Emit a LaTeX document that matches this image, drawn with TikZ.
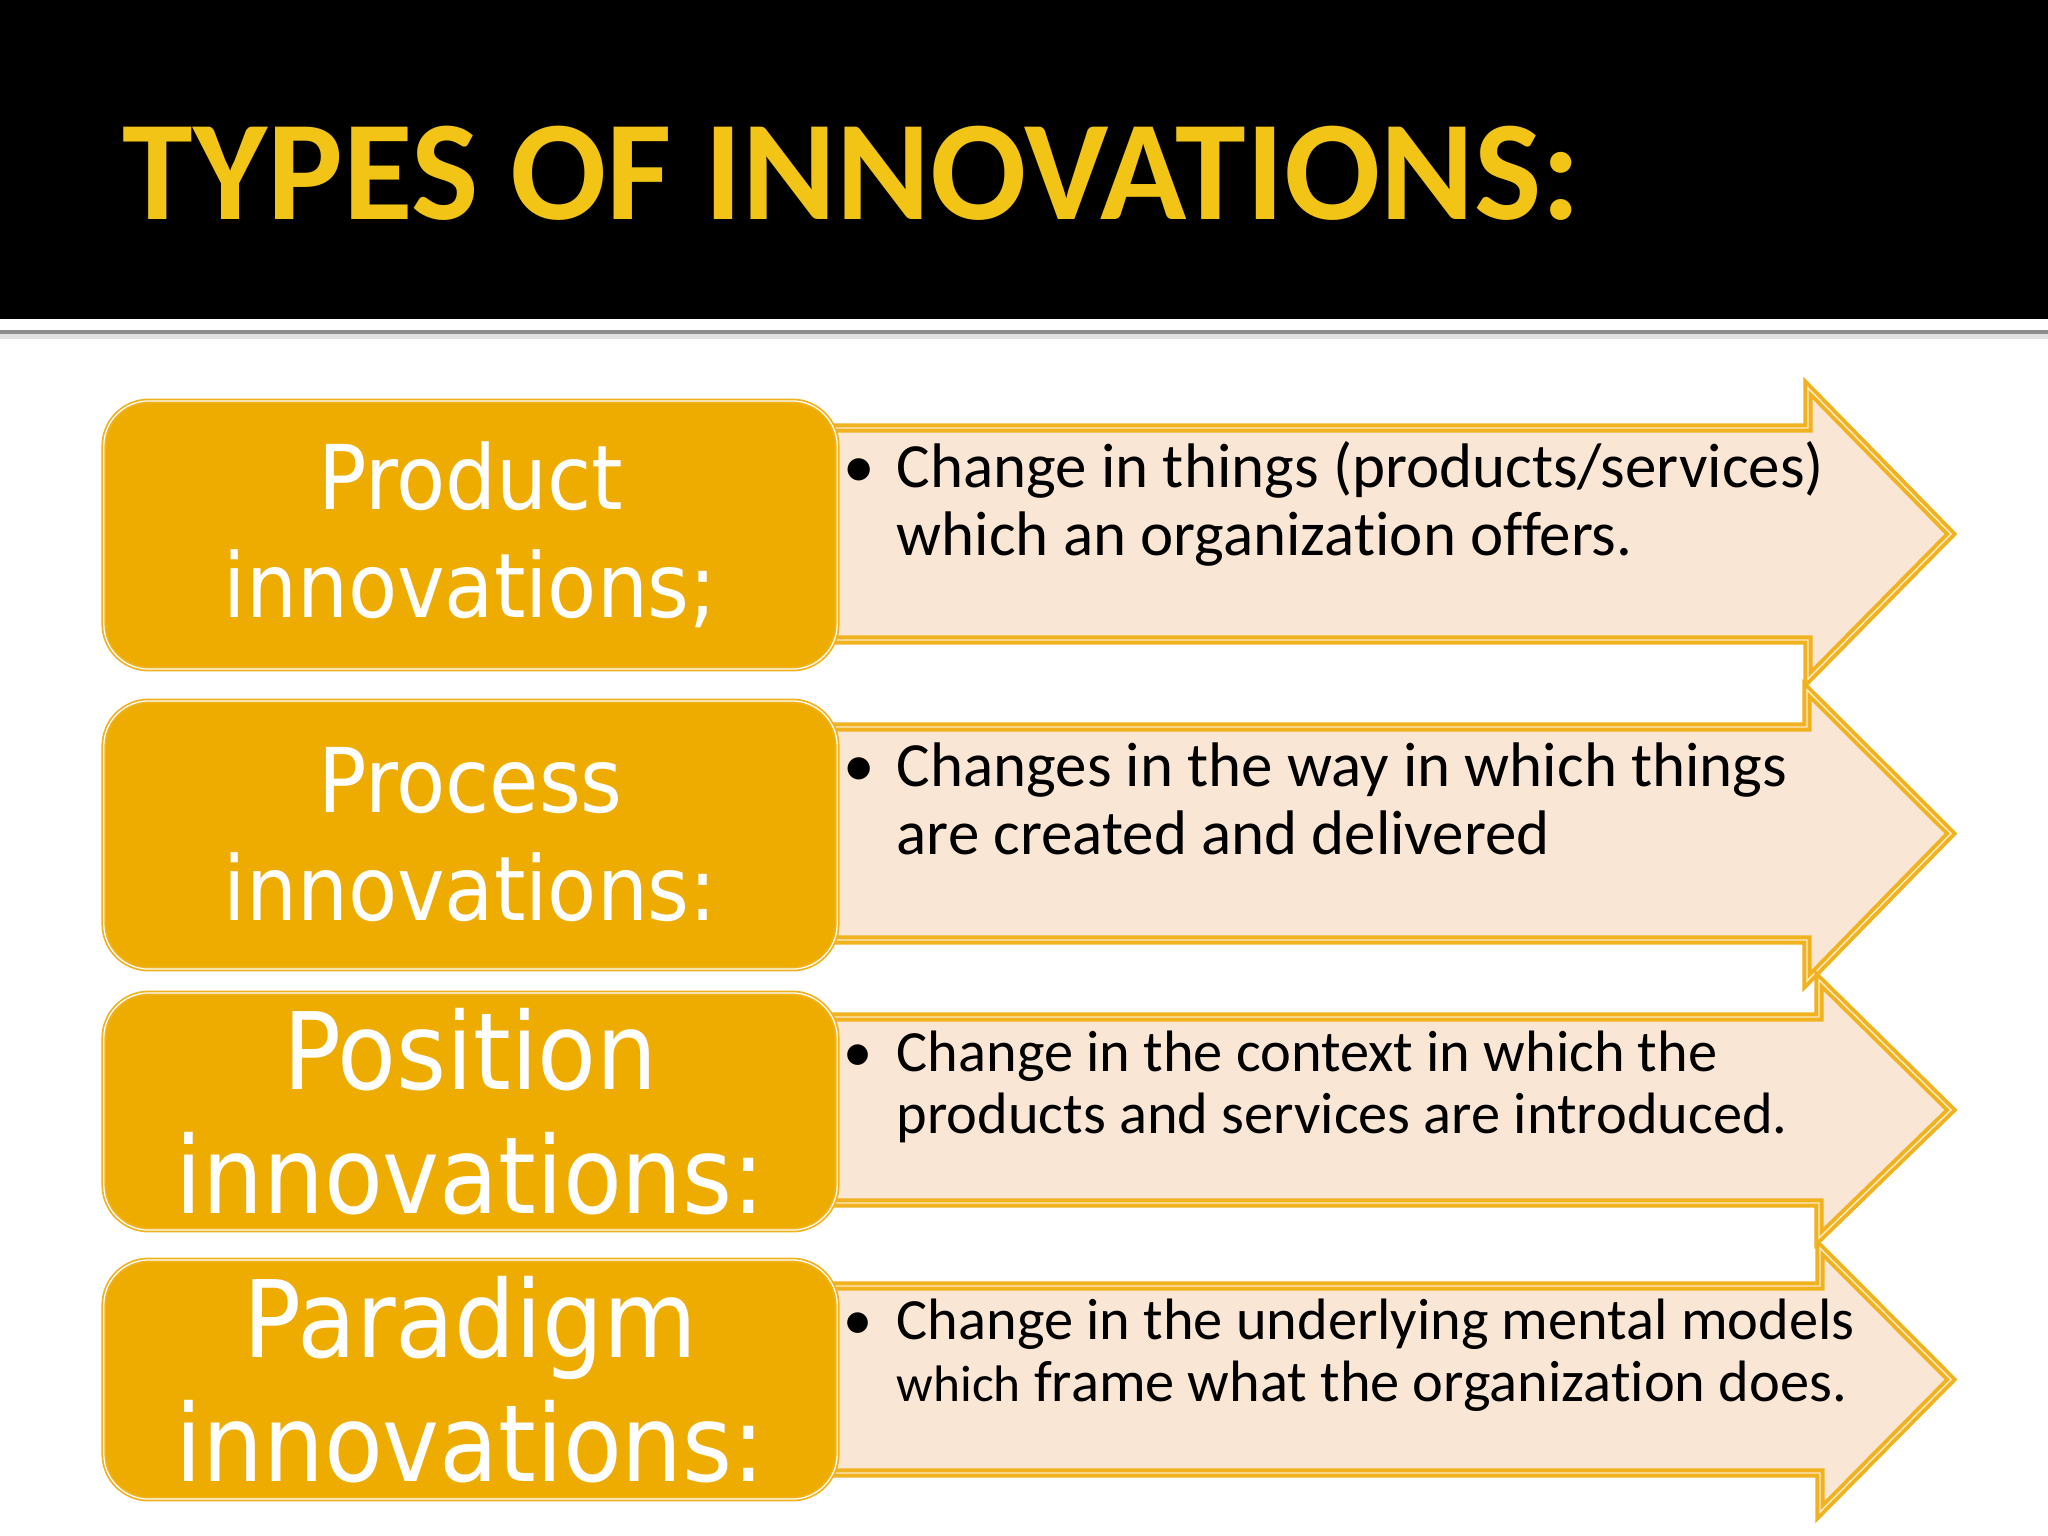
\documentclass[tikz,border=0pt]{standalone}
\usepackage{fontspec}
\setmainfont{Carlito}[Ligatures=NoCommon]
\newfontfamily\boxfont{DejaVu Sans Condensed}
\definecolor{titleyellow}{RGB}{242,196,22}
\definecolor{boxgold}{RGB}{239,172,0}
\definecolor{edgegold}{RGB}{240,178,30}
\definecolor{arrowfill}{RGB}{250,230,212}
\definecolor{arrowline}{RGB}{253,236,200}
\tikzset{
  typebox/.style={draw=edgegold, double=white, double distance=0.35pt, line width=0.5pt,
    fill=boxgold, rounded corners=0.45cm, minimum width=7.33cm, inner sep=0pt,
    text=white, align=center},
  arrowbox/.style={draw=edgegold, double=arrowline, double distance=0.4pt, line width=1.1pt,
    fill=arrowfill, line join=miter},
  desc/.style={anchor=base west, inner sep=0pt, text=black}
}
% arrow: (body top : body bottom : head top : head bottom : head base)
\def\typearrow(#1:#2:#3:#4:#5){\draw[arrowbox] (820,#1) -- (#5,#1) -- (#5,#3) -- (1951,{(#1+#2)/2}) -- (#5,#4) -- (#5,#2) -- (820,#2) -- cycle;}
\def\bigtype{\boxfont\fontsize{25.4}{30.7}\selectfont}
\def\hugetype{\boxfont\fontsize{30.4}{35.3}\selectfont}
\def\pt{\makebox[0.53cm][l]{\textbullet}}

\begin{document}
\begin{tikzpicture}[x=0.01cm, y=-0.01cm]
		\useasboundingbox (0,0) rectangle (2048,1536);
		\fill[white] (0,0) rectangle (2048,1536);
		
		%%%%% HEADER %%%%%
		\fill[black] (0,0) rectangle (2048,319);
		\fill[black!45] (0,330) rectangle (2048,334);
		\fill[black!12] (0,334) rectangle (2048,339);
		\node[font=\bfseries\fontsize{40.5}{41}\selectfont, text=titleyellow, anchor=base west, inner sep=0pt] (title) at (122,219) {TYPES OF INNOVATIONS:};
		
		%%%%% ARROWS %%%%%
		\typearrow(428:640:388:679:1808)
		\typearrow(727:940:690:981:1807)
		\typearrow(1017:1203:980:1238:1819)
		\typearrow(1286:1473:1248:1512:1820)
		
		%%%%% BOXES %%%%%
		\node[typebox, minimum height=2.68cm, font=\bigtype] (prod) at (470.5,535) {Product\\innovations;};
		\node[typebox, minimum height=2.68cm, font=\bigtype] (proc) at (470.5,835) {Process\\innovations:};
		\node[typebox, minimum height=2.37cm, font=\hugetype] (posi) at (470.5,1111.5) {Position\\innovations:};
		\node[typebox, minimum height=2.39cm, font=\hugetype] (para) at (470.5,1379.5) {Paradigm\\innovations:};
		
		%%%%% TEXTS %%%%%
		\node[desc, font=\fontsize{17.9}{19.35}\selectfont] (d1) at (843,487) {\begin{tabular}[t]{@{}l@{}}\pt Change in things (products/services)\\\hspace{0.53cm}which an organization offers.\end{tabular}};
		\node[desc, font=\fontsize{17.9}{19.35}\selectfont] (d2) at (843,786) {\begin{tabular}[t]{@{}l@{}}\pt Changes in the way in which things\\\hspace{0.53cm}are created and delivered\end{tabular}};
		\node[desc, font=\fontsize{16.6}{17.9}\selectfont] (d3) at (843,1071) {\begin{tabular}[t]{@{}l@{}}\pt Change in the context in which the\\\hspace{0.53cm}products and services are introduced.\end{tabular}};
		\node[desc, font=\fontsize{16.6}{17.9}\selectfont] (d4) at (843,1339) {\begin{tabular}[t]{@{}l@{}}\pt Change in the underlying mental models\\\hspace{0.53cm}{\fontsize{14.6}{17.9}\selectfont which} frame what the organization does.\end{tabular}};
	\end{tikzpicture}
\end{document}
